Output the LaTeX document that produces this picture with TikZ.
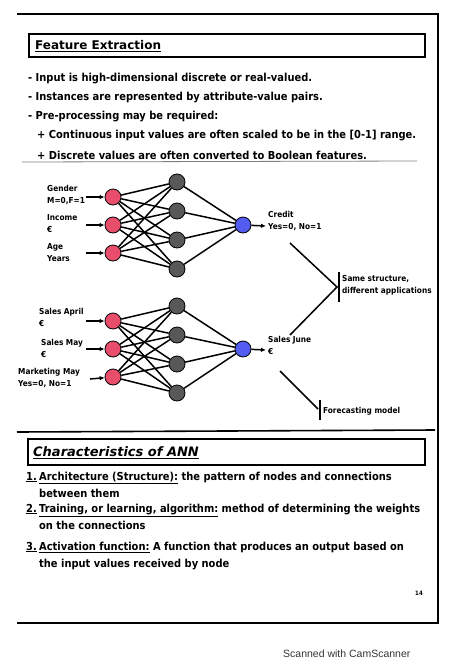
\documentclass[tikz,border=0pt]{standalone}
\usepackage{fontspec}
\setmainfont{DejaVu Sans Condensed}
\newfontfamily\titlefont{DejaVu Sans}
\newfontfamily\scanfont{Liberation Sans}
\usetikzlibrary{arrows.meta}
\definecolor{inred}{RGB}{232,78,108}
\definecolor{hidgray}{RGB}{88,88,88}
\definecolor{outblue}{RGB}{82,92,240}

\begin{document}
\begin{tikzpicture}[x=1pt,y=-1pt,
    every node/.style={inner sep=0pt},
    body/.style={anchor=west,font=\bfseries\fontsize{11}{17}\selectfont},
    lbl/.style={anchor=north west,align=left,font=\bfseries\fontsize{8.2}{12}\selectfont},
    neuron/.style={circle,draw=black,line width=0.8pt,minimum size=16pt},
    edge/.style={line width=1.5pt},
    feed/.style={line width=1.5pt,-{Latex[length=5pt,width=4.5pt]}}]
                        \useasboundingbox (0,0) rectangle (474,670);
                        \draw[line width=2.5pt] (17,14) -- (438,14) -- (438,623) -- (17,623);

                        \draw[line width=1.2pt] (29,34) rectangle (425,57);
                        \node[anchor=west,font=\titlefont\bfseries\fontsize{12}{13}\selectfont] (fetitle) at (35,46) {\underline{Feature Extraction}};
                        \node[body] (b1) at (28,79) {- Input is high-dimensional discrete or real-valued.};
                        \node[body] (b2) at (28,98) {- Instances are represented by attribute-value pairs.};
                        \node[body] (b3) at (28,117) {- Pre-processing may be required:};
                        \node[body] (b4) at (37,136) {+ Continuous input values are often scaled to be in the [0-1] range.};
                        \node[body] (b5) at (37,155) {+ Discrete values are often converted to Boolean features.};
                        \draw[gray, line width=0.8pt] (22,162) -- (417,161);

                        \foreach \n/\oy in {a/0, b/124} {
                            \foreach \i in {1,2,3}
                                \node[neuron, fill=inred] (\n i\i) at (113, {197+28*(\i-1)+\oy}) {};
                            \foreach \h in {1,...,4}
                                \node[neuron, fill=hidgray] (\n h\h) at (177, {182+29*(\h-1)+\oy}) {};
                            \node[neuron, fill=outblue] (\n o) at (243, {225+\oy}) {};
                            \foreach \i in {1,2,3}
                                \foreach \h in {1,...,4}
                                    \draw[edge] (\n i\i) -- (\n h\h);
                            \foreach \h in {1,...,4}
                                \draw[edge] (\n h\h) -- (\n o);
                            \coordinate (\n out) at (266, {226+\oy});
                            \draw[feed] (\n o) -- (\n out);
                            \foreach \i in {1,2,3}
                                \coordinate (\n src\i) at (86, {197+28*(\i-1)+\oy});
                        }
                        \coordinate (bsrc3) at (90, 379);
                        \foreach \n in {a,b}
                            \foreach \i in {1,2,3}
                                \draw[feed] (\n src\i) -- (\n i\i);

                        \node[lbl] (gender) at (47,185) {Gender\\M=0,F=1};
                        \node[lbl] (income) at (47,214) {Income\\€};
                        \node[lbl] (age) at (47,243) {Age\\Years};
                        \node[lbl] (salesapr) at (39,308) {Sales April\\€};
                        \node[lbl] (salesmay) at (41,339) {Sales May\\€};
                        \node[lbl] (marketing) at (18,368) {Marketing May\\Yes=0, No=1};
                        \node[lbl] (credit) at (268,211) {Credit\\Yes=0, No=1};
                        \node[lbl] (salesjune) at (268,336) {Sales June\\€};

                        \coordinate (c1) at (290,243);
                        \coordinate (c2) at (290,335);
                        \coordinate (cm) at (337,287);
                        \coordinate (f1) at (280,371);
                        \coordinate (fm) at (318,409);
                        \draw[edge] (c1) -- (cm) -- (c2);
                        \draw[edge] (339,272) -- (339,302);
                        \draw[edge] (f1) -- (fm);
                        \draw[edge] (320,400) -- (320,420);
                        \node[lbl, anchor=west] (same) at (342,285) {Same structure,\\different applications};
                        \node[lbl, anchor=west] (forecast) at (323,411) {Forecasting model};

                        \draw[line width=1.6pt] (17,432) -- (435,430);
                        \draw[line width=1.2pt] (28,439) rectangle (425,465);
                        \node[anchor=west,font=\titlefont\bfseries\itshape\fontsize{13}{14}\selectfont] (chtitle) at (33,453) {\underline{Characteristics of ANN}};
                        \foreach \k/\y in {1/477, 2/509, 3/547}
                            \node[body] (num\k) at (26,\y) {\underline{\k.}};
                        \node[body, anchor=north west, align=left] (item1) at (39,472) {\underline{Architecture (Structure):} the pattern of nodes and connections\\between them};
                        \node[body, anchor=north west, align=left] (item2) at (39,504) {\underline{Training, or learning, algorithm:} method of determining the weights\\on the connections};
                        \node[body, anchor=north west, align=left] (item3) at (39,542) {\underline{Activation function:} A function that produces an output based on\\the input values received by node};
                        \node[font=\bfseries\fontsize{6}{7}\selectfont] (page) at (419,593) {14};
                        \node[anchor=west,font=\scanfont\fontsize{10.5}{12}\selectfont,text=black!80] (scan) at (283,654) {Scanned with CamScanner};
                    \end{tikzpicture}
\end{document}
